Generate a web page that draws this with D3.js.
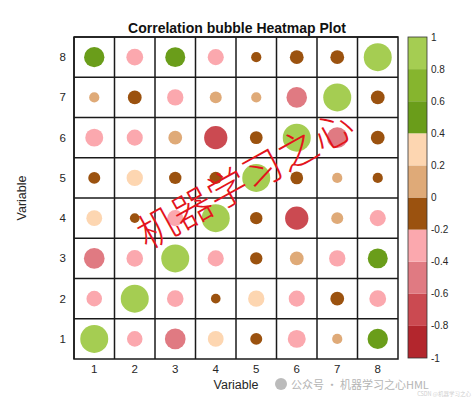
<!DOCTYPE html>
<html>
<head>
<meta charset="utf-8">
<script src="https://cdn.jsdelivr.net/npm/d3@7"></script>
<style>
  body { margin: 0; background: #fff; }
  text { font-family: "Liberation Sans", Arial, sans-serif; }
</style>
</head>
<body>
<div id="chart"></div>
<script>
var width = 474, height = 397;

// variables on both axes
var variables = [1, 2, 3, 4, 5, 6, 7, 8];

// correlation matrix, row i = variable i (y), column j = variable j (x)
var row1 = [1, -0.23, -0.47, 0.24, -0.12, -0.33, 0.08, 0.45];
var row2 = [-0.23, 1, -0.27, -0.07, 0.26, -0.25, -0.17, -0.28];
var row3 = [-0.47, -0.27, 1, -0.25, -0.13, 0.17, -0.26, 0.43];
var row4 = [0.24, -0.07, -0.25, 1, -0.13, -0.63, 0.12, -0.25];
var row5 = [-0.12, 0.26, -0.13, -0.13, 1, -0.14, 0.08, -0.08];
var row6 = [-0.33, -0.25, 0.17, -0.63, -0.14, 1, -0.46, -0.17];
var row7 = [0.08, -0.17, -0.26, 0.12, 0.08, -0.46, 1, -0.17];
var row8 = [0.45, -0.28, 0.43, -0.25, -0.08, -0.17, -0.17, 1];
var matrix = [row1, row2, row3, row4, row5, row6, row7, row8];

// colormap, from -1 up to 1 (10 bins)
var binColors = ["#b3262d", "#cb4a51", "#e07a82", "#fba8ae", "#9b520f",
                 "#dfaa78", "#fdd6b1", "#6a9d1a", "#86b52e", "#a5cd52"];
var colorTicks = [1, 0.8, 0.6, 0.4, 0.2, 0, -0.2, -0.4, -0.6, -0.8, -1];

var svg = d3.select("#chart")
            .append("svg")
            .attr("width", width)
            .attr("height", height);

// scales
var x = d3.scaleBand().domain(variables).range([74, 398]);
var y = d3.scaleBand().domain(variables).range([359, 37]);
var color = d3.scaleQuantize().domain([-1, 1]).range(binColors);
var radius = d3.scalePow().exponent(0.4).domain([0, 1]).range([0, 14]);

// flatten matrix into cells
var cells = [];
matrix.forEach(function(row, i) {
    row.forEach(function(v, j) {
        cells.push({ yv: variables[i], xv: variables[j], value: v });
    });
});

// bubbles
svg.selectAll(".bubble")
   .data(cells)
   .enter()
   .append("circle")
   .attr("class", "bubble")
   .attr("cx", function(d) { return x(d.xv) + x.bandwidth() / 2; })
   .attr("cy", function(d) { return y(d.yv) + y.bandwidth() / 2; })
   .attr("r", function(d) { return radius(Math.abs(d.value)); })
   .style("fill", function(d) { return color(d.value); });

// grid lines
var grid = svg.append("g").attr("stroke", "#1a1a1a").attr("stroke-width", 1.5);
variables.forEach(function(v) {
    grid.append("line")
        .attr("x1", x(v)).attr("x2", x(v))
        .attr("y1", 37).attr("y2", 359);
    grid.append("line")
        .attr("x1", 74).attr("x2", 398)
        .attr("y1", y(v)).attr("y2", y(v));
});
svg.append("rect")
   .attr("x", 74).attr("y", 37)
   .attr("width", 324).attr("height", 322)
   .attr("fill", "none")
   .attr("stroke", "#1a1a1a")
   .attr("stroke-width", 1.5);

// tick labels
svg.selectAll(".xlab")
   .data(variables)
   .enter()
   .append("text")
   .attr("x", function(d) { return x(d) + x.bandwidth() / 2; })
   .attr("y", 373)
   .attr("text-anchor", "middle")
   .style("font-size", "11.5px")
   .style("fill", "#262626")
   .text(function(d) { return d; });

svg.selectAll(".ylab")
   .data(variables)
   .enter()
   .append("text")
   .attr("x", 66)
   .attr("y", function(d) { return y(d) + y.bandwidth() / 2 + 4; })
   .attr("text-anchor", "end")
   .style("font-size", "11.5px")
   .style("fill", "#262626")
   .text(function(d) { return d; });

// axis titles
svg.append("text")
   .attr("x", 236).attr("y", 389)
   .attr("text-anchor", "middle")
   .style("font-size", "12.5px")
   .style("fill", "#262626")
   .text("Variable");

svg.append("text")
   .attr("transform", "translate(26,198) rotate(-90)")
   .attr("text-anchor", "middle")
   .style("font-size", "12.5px")
   .style("fill", "#262626")
   .text("Variable");

// title
svg.append("text")
   .attr("x", 237).attr("y", 33)
   .attr("text-anchor", "middle")
   .style("font-size", "14px")
   .style("font-weight", "bold")
   .style("fill", "#111")
   .text("Correlation bubble Heatmap Plot");

// colorbar
var cb = d3.scaleLinear().domain([-1, 1]).range([358, 37]);
var bins = binColors.map(function(c, i) { return { lo: -1 + i * 0.2, hi: -0.8 + i * 0.2, c: c }; });
svg.selectAll(".cbar")
   .data(bins)
   .enter()
   .append("rect")
   .attr("class", "cbar")
   .attr("x", 408)
   .attr("width", 19)
   .attr("y", function(d) { return cb(d.hi); })
   .attr("height", function(d) { return cb(d.lo) - cb(d.hi); })
   .style("fill", function(d) { return d.c; });
svg.append("rect")
   .attr("x", 408).attr("y", 37)
   .attr("width", 19).attr("height", 321)
   .attr("fill", "none")
   .attr("stroke", "#333")
   .attr("stroke-width", 0.8);

svg.selectAll(".cblab")
   .data(colorTicks)
   .enter()
   .append("text")
   .attr("x", 431)
   .attr("y", function(d) { return cb(d) + 3.5; })
   .style("font-size", "10px")
   .style("fill", "#262626")
   .text(function(d) { return d3.format("~g")(d).replace("−", "-"); });

// watermarks
svg.append("text")
   .attr("transform", "translate(252,192) rotate(-29)")
   .attr("text-anchor", "middle")
   .style("font-family", "'Noto Sans CJK SC', sans-serif")
   .style("font-size", "40px")
   .style("font-weight", "300")
   .style("fill", "#e3141c")
   .text("机器学习之心");

svg.append("circle")
   .attr("cx", 281).attr("cy", 384).attr("r", 6)
   .style("fill", "#bbb");
svg.append("text")
   .attr("x", 291).attr("y", 389)
   .style("font-family", "'Noto Sans CJK SC', sans-serif")
   .style("font-size", "11px")
   .style("fill", "#b5b5b5")
   .text("公众号 · 机器学习之心HML");

svg.append("text")
   .attr("x", 471).attr("y", 396)
   .attr("text-anchor", "end")
   .style("font-family", "'Noto Sans CJK SC', sans-serif")
   .style("font-size", "5.5px")
   .style("fill", "#cfcfcf")
   .text("CSDN @机器学习之心");
</script>
</body>
</html>
